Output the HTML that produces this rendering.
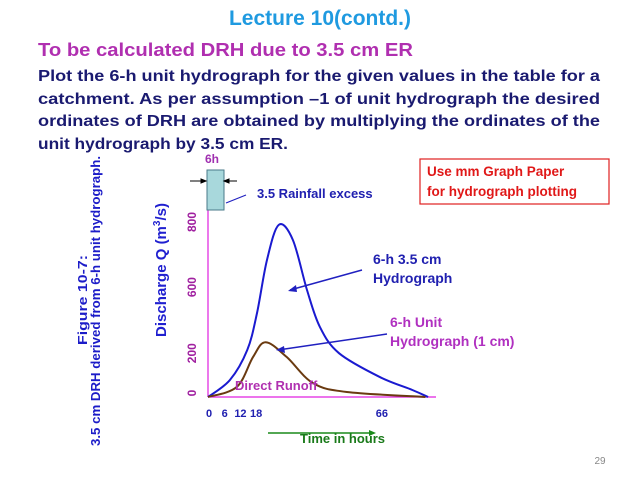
<!DOCTYPE html>
<html><head><meta charset="utf-8"><style>
body{margin:0;width:638px;height:478px;background:#fff;overflow:hidden;font-family:"Liberation Sans",sans-serif}
svg{display:block}
</style></head><body>
<svg width="638" height="478" viewBox="0 0 638 478">
<text x="320" y="25" text-anchor="middle" font-size="21" font-weight="bold" fill="#1f9ae0">Lecture 10(contd.)</text>
<text x="38" y="56" font-size="18" font-weight="bold" fill="#b02fb0" textLength="375" lengthAdjust="spacingAndGlyphs">To be calculated DRH due to 3.5 cm ER</text>
<g font-size="15.5" font-weight="bold" fill="#1a1a70">
<text x="38" y="81" textLength="562" lengthAdjust="spacingAndGlyphs">Plot the 6-h unit hydrograph for the given values in the table for a</text>
<text x="38" y="104" textLength="562" lengthAdjust="spacingAndGlyphs">catchment. As per assumption –1 of unit hydrograph the desired</text>
<text x="38" y="126" textLength="562" lengthAdjust="spacingAndGlyphs">ordinates of DRH are obtained by multiplying the ordinates of the</text>
<text x="38" y="149" textLength="250" lengthAdjust="spacingAndGlyphs">unit hydrograph  by  3.5 cm ER.</text>
</g>
<g font-size="12.5" font-weight="bold" fill="#1c1cc8">
<text transform="translate(87,300) rotate(-90)" text-anchor="middle" textLength="90" lengthAdjust="spacingAndGlyphs">Figure  10-7:</text>
<text transform="translate(100,301) rotate(-90)" text-anchor="middle" textLength="290" lengthAdjust="spacingAndGlyphs">3.5 cm DRH derived from 6-h unit hydrograph.</text>
</g>
<text transform="translate(166,270) rotate(-90)" text-anchor="middle" font-size="15" font-weight="bold" fill="#2020d0">Discharge Q (m<tspan font-size="10" dy="-6">3</tspan><tspan dy="6">/s)</tspan></text>
<g id="chart"></g>
<rect x="207" y="170" width="17" height="40" fill="#a8d8dc" stroke="#4a7a8a" stroke-width="1"/>
<text x="205" y="163" font-size="12" font-weight="bold" fill="#a030b0">6h</text>
<g stroke="#000" stroke-width="1">
<line x1="190" y1="181" x2="205" y2="181"/><polygon points="206,181 201,179 201,183" fill="#000"/>
<line x1="237" y1="181" x2="225" y2="181"/><polygon points="224,181 229,179 229,183" fill="#000"/>
</g>
<line x1="246" y1="195" x2="226" y2="203" stroke="#2020c0" stroke-width="1.2"/>
<text x="257" y="198" font-size="13" font-weight="bold" fill="#2020b0">3.5 Rainfall excess</text>
<rect x="420" y="159" width="189" height="45" fill="#fff" stroke="#e02020" stroke-width="1.2"/>
<g font-size="13.5" font-weight="bold" fill="#e01818">
<text x="427" y="176">Use mm Graph Paper</text><text x="427" y="196">for hydrograph plotting</text></g>
<g font-size="14" font-weight="bold" fill="#2020b0"><text x="373" y="264">6-h  3.5 cm</text><text x="373" y="283">Hydrograph</text></g>
<g font-size="14" font-weight="bold" fill="#b030c0"><text x="390" y="327">6-h Unit</text><text x="390" y="346">Hydrograph (1 cm)</text></g>
<line x1="362" y1="270" x2="290" y2="290" stroke="#2020c0" stroke-width="1.5"/>
<polygon points="288,291 296,285 297,292" fill="#2020c0"/>
<line x1="387" y1="334" x2="278" y2="350" stroke="#2020c0" stroke-width="1.5"/>
<polygon points="276,350 284,346 285,353" fill="#2020c0"/>
<text x="235" y="390" font-size="13" font-weight="bold" fill="#b030b0">Direct Runoff</text>
<line x1="268" y1="433" x2="372" y2="433" stroke="#1a8a1a" stroke-width="1.5"/>
<polygon points="376,433 369,430 369,436" fill="#1a8a1a"/>
<text x="300" y="443" font-size="13" font-weight="bold" fill="#1a7a1a">Time in hours</text>
<text x="600" y="464" font-size="10" fill="#888" text-anchor="middle">29</text>
</svg>
<script>
const yTicks=[0,200,600,800];
const yTickAt=[18,200,502,799];
const xTicks=[0,6,12,18,66];
const drhHours=[0,8.4,15,18.7,22.5,27,32.4,37.8,42.7,50,65.6,78,84];
const drhQ=[0,78,215,383,625,786,717,488,320,200,91,32,0];
const uhHours=[0,11,17.2,22,30,40,53,83];
const uhQ=[0,46,183,250,183,64,23,0];
const X0=208,Y0=397;
function sx(h){return X0+h*2.62;}
function sy(q){return Y0-q*0.219;}
const NS="http://www.w3.org/2000/svg";
const g=document.getElementById('chart');
function mk(t,a){const e=document.createElementNS(NS,t);for(const k in a)e.setAttribute(k,a[k]);g.appendChild(e);return e;}
let ax=mk('line',{x1:X0,y1:170,x2:X0,y2:Y0,stroke:'#e020e0','stroke-width':1.2});


let bx=mk('line',{x1:X0,y1:Y0,x2:436,y2:Y0,stroke:'#e020e0','stroke-width':1.2});


yTicks.forEach((v,i)=>{const t=mk('text',{transform:`translate(196,${sy(yTickAt[i])}) rotate(-90)`,'text-anchor':'middle','font-size':12,'font-weight':'bold',fill:'#a020a0'});t.textContent=v;

});
xTicks.forEach(v=>{const t=mk('text',{x:sx(v)+1,y:417,'text-anchor':'middle','font-size':11,'font-weight':'bold',fill:'#2020b0'});t.textContent=v;

});
function smooth(hs,qs){const p=hs.map((h,i)=>[sx(h),sy(qs[i])]);let d=`M${p[0][0]},${p[0][1]}`;
for(let i=0;i<p.length-1;i++){const p0=p[i-1]||p[i],p1=p[i],p2=p[i+1],p3=p[i+2]||p2;
d+=` C${p1[0]+(p2[0]-p0[0])/6},${p1[1]+(p2[1]-p0[1])/6} ${p2[0]-(p3[0]-p1[0])/6},${p2[1]-(p3[1]-p1[1])/6} ${p2[0]},${p2[1]}`;}return d;}
let c1=mk('path',{d:smooth(drhHours,drhQ),fill:'none',stroke:'#1a1ad0','stroke-width':2});


let c2=mk('path',{d:smooth(uhHours,uhQ),fill:'none',stroke:'#6a3a10','stroke-width':2});


</script>
</body></html>
